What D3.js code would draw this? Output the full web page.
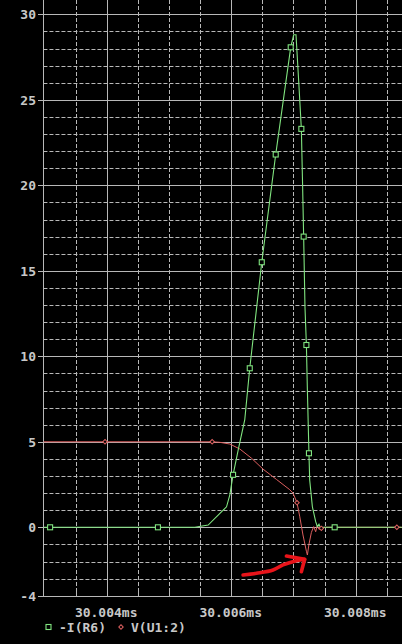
<!DOCTYPE html>
<html><head><meta charset="utf-8">
<script src="https://cdn.jsdelivr.net/npm/d3@7"></script>
<style>html,body{margin:0;padding:0;background:#000;overflow:hidden}svg{display:block}</style>
</head><body>
<script>
// ---- data ----
const xTickLabels = ["30.004ms", "30.006ms", "30.008ms"];
const xMajor = [30.004, 30.006, 30.008];
const xMinor = [30.0035, 30.0045, 30.005, 30.0055, 30.0065, 30.007, 30.0075, 30.0085];
const yTicks = [-4, 0, 5, 10, 15, 20, 25, 30];
const seriesNames = ["-I(R6)", "V(U1:2)"];

// -I(R6): [time ms, value]
const iR6 = [
  [30.00298, 0], [30.003091, 0], [30.004823, 0], [30.005416, 0], [30.00563, 0.13],
  [30.005925, 1.2], [30.005978, 1.9], [30.00603, 3.07], [30.006111, 4.5], [30.006218, 6.3],
  [30.006298, 9.3], [30.006491, 15.5], [30.006715, 21.8], [30.006956, 28.07], [30.007004, 28.8],
  [30.007041, 28.8], [30.007084, 26.1], [30.007127, 23.3], [30.007144, 20.5], [30.007164, 17.0],
  [30.007185, 12.9], [30.007208, 10.66], [30.007224, 8.0], [30.007249, 4.33], [30.007261, 2.77],
  [30.007304, 1.2], [30.007357, 0.33], [30.007384, 0.04], [30.00741, 0.18], [30.007437, -0.06],
  [30.007469, 0], [30.007662, 0], [30.00874, 0]
];
const iR6Markers = [30.003091, 30.004823, 30.00603, 30.006298, 30.006491, 30.006715, 30.006956,
  30.007127, 30.007164, 30.007208, 30.007249, 30.007662];

// V(U1:2): [time ms, value]
const vU1 = [
  [30.00298, 5], [30.003973, 5], [30.005694, 5], [30.005817, 4.97], [30.005978, 4.87],
  [30.006138, 4.58], [30.006326, 4.04], [30.006512, 3.4], [30.006727, 2.8], [30.00694, 2.2],
  [30.006993, 2.0], [30.007057, 1.44], [30.0071, 0.65], [30.007153, -0.45], [30.007208, -1.4],
  [30.007224, -1.62], [30.007249, -1.0], [30.007288, -0.3], [30.007325, 0.04], [30.007357, -0.26],
  [30.007384, 0.13], [30.00741, -0.12], [30.007448, -0.06], [30.007501, 0], [30.008661, 0], [30.00874, 0]
];
const vU1Markers = [30.003973, 30.005694, 30.007057, 30.007448, 30.008661];

// hand-drawn annotation arrow (data coords)
const arrowBody = [[30.006191, -2.79], [30.006406, -2.69], [30.006672, -2.5], [30.006832, -2.2], [30.007047, -1.95], [30.00718, -1.87]];
const arrowHead = [[30.006887, -1.68], [30.00718, -1.87], [30.007127, -2.6]];

// ---- drawing ----
const W = 402, H = 644;
const svg = d3.select("body").append("svg").attr("width", W).attr("height", H);
svg.append("rect").attr("width", W).attr("height", H).attr("fill", "#000");

const x = d3.scaleLinear().domain([30.004, 30.008]).range([106.7, 355.7]);
const y = d3.scaleLinear().domain([-4, 30]).range([595.7, 14.3]);
const left = x(30.003) - 1, bottom = y(-4);
const gridCol = "#b8b8b8";

const g = svg.append("g");
// horizontal grid
d3.range(-3, 31).forEach(v => {
  const major = v % 5 === 0;
  g.append("line").attr("x1", left).attr("x2", W).attr("y1", Math.round(y(v)) + 0.5).attr("y2", Math.round(y(v)) + 0.5)
    .attr("stroke", gridCol).attr("stroke-width", 1)
    .attr("stroke-dasharray", major ? null : "4,2");
});
// vertical grid
xMajor.forEach(t => {
  g.append("line").attr("x1", Math.round(x(t)) + 0.5).attr("x2", Math.round(x(t)) + 0.5).attr("y1", 0).attr("y2", bottom)
    .attr("stroke", gridCol);
});
xMinor.forEach(t => {
  g.append("line").attr("x1", Math.round(x(t)) + 0.5).attr("x2", Math.round(x(t)) + 0.5).attr("y1", 0).attr("y2", bottom)
    .attr("stroke", gridCol).attr("stroke-dasharray", "4,2");
});
// axes
g.append("line").attr("x1", Math.round(left) + 0.5).attr("x2", Math.round(left) + 0.5).attr("y1", 0).attr("y2", Math.round(bottom) + 0.5).attr("stroke", gridCol);
g.append("line").attr("x1", Math.round(left)).attr("x2", W).attr("y1", Math.round(bottom) + 0.5).attr("y2", Math.round(bottom) + 0.5).attr("stroke", gridCol);
// x tick marks (inside, upward)
xMajor.concat(xMinor).forEach(t => {
  g.append("line").attr("x1", Math.round(x(t)) + 0.5).attr("x2", Math.round(x(t)) + 0.5)
    .attr("y1", Math.round(bottom)).attr("y2", Math.round(bottom) - 5).attr("stroke", gridCol);
});
// y tick marks and labels
const fontFam = "'DejaVu Sans Mono', 'Liberation Mono', monospace";
yTicks.forEach(v => {
  const yy = Math.round(y(v)) + 0.5;
  g.append("line").attr("x1", Math.round(left) - 5).attr("x2", Math.round(left)).attr("y1", yy).attr("y2", yy).attr("stroke", gridCol);
  g.append("text").attr("x", 36).attr("y", yy + 4.8).attr("text-anchor", "end")
    .attr("font-family", fontFam).attr("font-size", 13).attr("font-weight", "bold").attr("fill", "#c8c8c8")
    .text(String(v));
});
// x labels
xMajor.forEach((t, i) => {
  g.append("text").attr("x", x(t) - 0.5).attr("y", 617).attr("text-anchor", "middle")
    .attr("font-family", fontFam).attr("font-size", 13).attr("font-weight", "bold").attr("fill", "#c8c8c8")
    .text(xTickLabels[i]);
});

// series
const greenCol = "#80e47f", redCol = "#dc5f5f";
const line = d3.line().x(d => x(d[0])).y(d => y(d[1]));
svg.append("clipPath").attr("id", "pc").append("rect")
  .attr("x", left).attr("y", 0).attr("width", W - left).attr("height", bottom);
const plot = svg.append("g").attr("clip-path", "url(#pc)");
plot.append("path").datum(vU1).attr("d", line).attr("fill", "none").attr("stroke", redCol).attr("stroke-width", 1);
plot.append("path").datum(iR6).attr("d", line).attr("fill", "none").attr("stroke", greenCol).attr("stroke-width", 1.1);

const valAt = (arr, t) => arr.find(d => d[0] === t)[1];
iR6Markers.forEach(t => {
  plot.append("rect").attr("x", x(t) - 2.5).attr("y", y(valAt(iR6, t)) - 2.5).attr("width", 5).attr("height", 5)
    .attr("fill", "#000").attr("stroke", greenCol).attr("stroke-width", 1.1);
});
vU1Markers.forEach(t => {
  plot.append("path").attr("d", d3.symbol().type(d3.symbolSquare).size(10)())
    .attr("transform", `translate(${x(t)},${y(valAt(vU1, t))}) rotate(45)`)
    .attr("fill", "#000").attr("stroke", redCol).attr("stroke-width", 1);
});

// annotation arrow
const arrowLine = d3.line().x(d => x(d[0])).y(d => y(d[1])).curve(d3.curveCatmullRom);
svg.append("path").datum(arrowBody).attr("d", arrowLine).attr("fill", "none").attr("stroke", "#e8141a")
  .attr("stroke-width", 3.6).attr("stroke-linecap", "round").attr("stroke-linejoin", "round");
svg.append("path").datum(arrowHead).attr("d", d3.line().x(d => x(d[0])).y(d => y(d[1]))).attr("fill", "none").attr("stroke", "#e8141a")
  .attr("stroke-width", 3.6).attr("stroke-linecap", "round").attr("stroke-linejoin", "round");

// legend
const lg = svg.append("g");
lg.append("rect").attr("x", 46).attr("y", 624.5).attr("width", 5).attr("height", 5)
  .attr("fill", "#000").attr("stroke", greenCol).attr("stroke-width", 1.1);
lg.append("text").attr("x", 59).attr("y", 632).attr("font-family", fontFam).attr("font-size", 13).attr("font-weight", "bold")
  .attr("fill", "#c8c8c8").text(seriesNames[0]);
lg.append("path").attr("d", d3.symbol().type(d3.symbolSquare).size(10)())
  .attr("transform", "translate(121,627) rotate(45)")
  .attr("fill", "#000").attr("stroke", redCol).attr("stroke-width", 1);
lg.append("text").attr("x", 131).attr("y", 632).attr("font-family", fontFam).attr("font-size", 13).attr("font-weight", "bold")
  .attr("fill", "#c8c8c8").text(seriesNames[1]);
</script>
</body></html>
